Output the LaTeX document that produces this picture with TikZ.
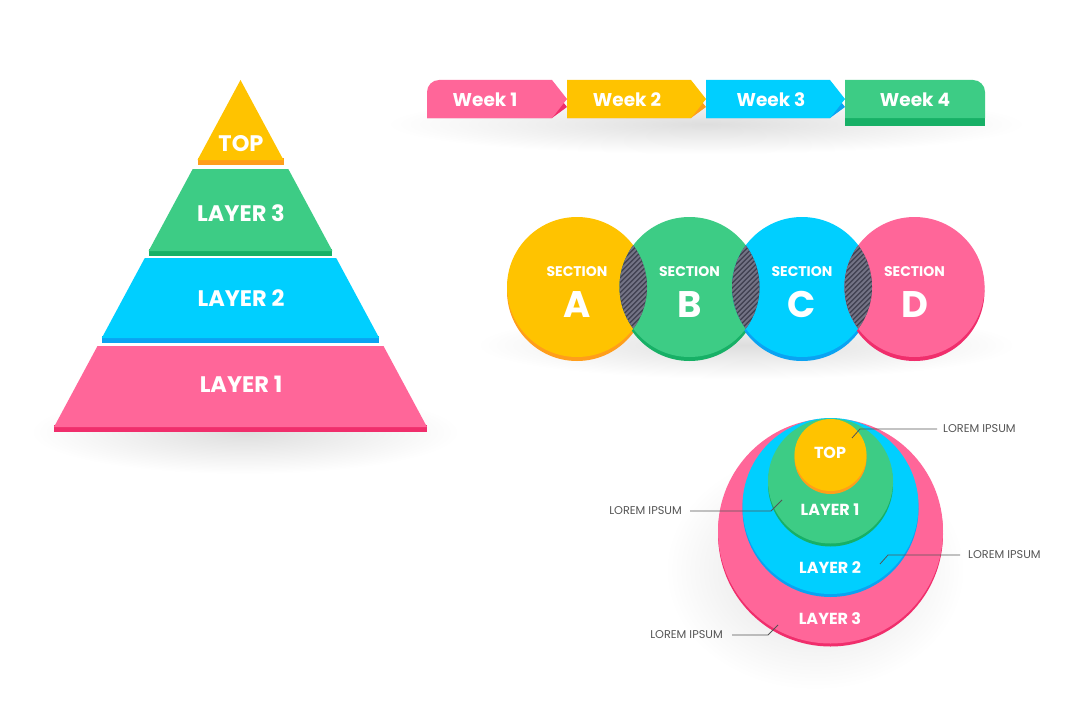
\documentclass[tikz,border=0pt]{standalone}
\usepackage{fontspec}
\newfontfamily\pop{Poppins}
\definecolor{pk}{HTML}{FF6699}
\definecolor{pkd}{HTML}{F02E6C}
\definecolor{yl}{HTML}{FFC300}
\definecolor{yld}{HTML}{FF9E1B}
\definecolor{gn}{HTML}{3DCC85}
\definecolor{gnd}{HTML}{17B066}
\definecolor{cy}{HTML}{00CFFF}
\definecolor{cyd}{HTML}{0AA3F2}
\definecolor{hb}{HTML}{404050}
\definecolor{hl}{HTML}{737385}
\definecolor{lg}{HTML}{555555}
\tikzset{
  pyrtxt/.style={text=white, inner sep=0pt, font=\pop\bfseries\fontsize{22.5}{22.5}\selectfont},
  wktxt/.style={text=white, inner sep=0pt, font=\pop\bfseries\fontsize{18.5}{18.5}\selectfont},
  sectxt/.style={text=white, inner sep=0pt, font=\pop\bfseries\fontsize{14}{14}\selectfont},
  lettxt/.style={text=white, inner sep=0pt, font=\pop\bfseries\fontsize{37}{37}\selectfont},
  nesttxt/.style={text=white, inner sep=0pt, font=\pop\bfseries\fontsize{16}{16}\selectfont},
  lorem/.style={text=lg, inner sep=0pt, font=\pop\fontsize{11.3}{11.3}\selectfont},
  leader/.style={draw=lg, line width=0.8pt},
  hatchline/.style={draw=hl, line width=1.8pt},
  shadowsoft/.style={inner color=black!13, outer color=white},
}
\begin{document}
\begin{tikzpicture}[x=1pt,y=-1pt]
\useasboundingbox (0,0) rectangle (1087,725);
\fill[white] (0,0) rectangle (1087,725);

% ---------- shadows ----------
\shade[shadowsoft] (245,432) ellipse (215 and 42);
\shade[shadowsoft] (706,124) ellipse (320 and 30);
\shade[shadowsoft] (746,345) ellipse (270 and 34);
\shade[shadowsoft] (815,570) ellipse (150 and 120);

% ---------- pyramid ----------
\fill[yld] (197.5,158) rectangle (283.5,165);
\fill[yl] (240.5,80) -- (283.5,160) -- (197.5,160) -- cycle;
\fill[gnd] (148.6,249) rectangle (332.4,256);
\fill[gn] (192.7,169) -- (288.3,169) -- (332.4,251) -- (148.6,251) -- cycle;
\fill[cyd] (101.8,336) rectangle (379.2,343);
\fill[cy] (144.8,258) -- (336.2,258) -- (379.2,338) -- (101.8,338) -- cycle;
\fill[pkd] (54,425) rectangle (427,432);
\fill[pk] (97.5,346) -- (383.5,346) -- (427,427) -- (54,427) -- cycle;
\node[pyrtxt] (ptop) at (241,144) {TOP};
\node[pyrtxt] (pl3) at (241,213) {LAYER 3};
\node[pyrtxt] (pl2) at (241,298) {LAYER 2};
\node[pyrtxt] (pl1) at (241,384) {LAYER 1};

% ---------- weeks ----------
\foreach \dy/\c in {8/pkd,0/pk}{
  \fill[\c, shift={(0,\dy)}] (427,110) -- (427,92) arc[start angle=180,end angle=270,radius=12] -- (552,80) -- (567,99) -- (552,110) -- cycle;
}
\fill[pk] (427,92) -- (427,118) -- (552,118) -- (567,99) -- cycle;
\foreach \dy/\c in {8/yld,0/yl}{
  \fill[\c, shift={(0,\dy)}] (567,110) -- (567,80) -- (691,80) -- (706,99) -- (691,110) -- cycle;
}
\fill[yl] (567,90) -- (567,118) -- (691,118) -- (706,99) -- cycle;
\foreach \dy/\c in {8/cyd,0/cy}{
  \fill[\c, shift={(0,\dy)}] (706,110) -- (706,80) -- (830,80) -- (845,99) -- (830,110) -- cycle;
}
\fill[cy] (706,90) -- (706,118) -- (830,118) -- (845,99) -- cycle;
\fill[gnd] (845,110) rectangle (985,126);
\fill[gn] (845,118) -- (845,80) -- (973,80) arc[start angle=270,end angle=360,radius=12] -- (985,118) -- cycle;
\node[wktxt] (w1) at (485,100) {Week 1};
\node[wktxt] (w2) at (627,100) {Week 2};
\node[wktxt] (w3) at (771,100) {Week 3};
\node[wktxt] (w4) at (915,100) {Week 4};

% ---------- sections ----------
\fill[yld] (577,291) circle (70);
\fill[gnd] (689.5,291) circle (70);
\fill[cyd] (802,291) circle (70);
\fill[pkd] (914.5,291) circle (70);
\fill[yl] (577,287) circle (70);
\fill[gn] (689.5,287) circle (70);
\fill[cy] (802,287) circle (70);
\fill[pk] (914.5,287) circle (70);
\foreach \xa/\xb in {577/689.5, 689.5/802, 802/914.5}{
  \begin{scope}
    \clip (\xa,287) circle (70);
    \clip (\xb,287) circle (70);
    \pgfmathsetmacro{\xm}{(\xa+\xb)/2}
    \fill[hb] (\xm-40,230) rectangle (\xm+40,345);
    \foreach \i in {-120,-115,...,120}{
      \draw[hatchline] (\xm+\i-60,347) -- (\xm+\i+60,227);
    }
  \end{scope}
}
\node[sectxt] (sa) at (577,272) {SECTION};
\node[sectxt] (sb) at (689.5,272) {SECTION};
\node[sectxt] (sc) at (802,272) {SECTION};
\node[sectxt] (sd) at (914.5,272) {SECTION};
\node[lettxt] (la) at (577,304.5) {A};
\node[lettxt] (lb) at (689.5,304.5) {B};
\node[lettxt] (lc) at (802,304.5) {C};
\node[lettxt] (ld) at (914.5,304.5) {D};

% ---------- nested circles ----------
\fill[pkd] (830.5,534) circle (112.5);
\fill[pk] (830.5,531) circle (112.5);
\fill[cyd] (830.5,509) circle (88);
\fill[cy] (830.5,506) circle (88);
\fill[gnd] (830.5,484) circle (62.5);
\fill[gn] (830.5,481) circle (62.5);
\fill[yld] (830.5,458) circle (36);
\fill[yl] (830.5,455) circle (36);
\node[nesttxt] (ntop) at (830,453) {TOP};
\node[nesttxt] (nl1) at (830,510) {LAYER 1};
\node[nesttxt] (nl2) at (830,568) {LAYER 2};
\node[nesttxt] (nl3) at (830,619) {LAYER 3};

% ---------- labels ----------
\node[lorem, anchor=west] (loa) at (943,429) {LOREM IPSUM};
\coordinate (loa0) at (937,429);
\coordinate (loa1) at (860,429);
\coordinate (loa2) at (852,438);
\draw[leader] (loa0) -- (loa1) -- (loa2);

\node[lorem, anchor=west] (lob) at (968,555) {LOREM IPSUM};
\coordinate (lob0) at (960,555);
\coordinate (lob1) at (888,555);
\coordinate (lob2) at (880,564);
\draw[leader] (lob0) -- (lob1) -- (lob2);

\node[lorem, anchor=east] (loc) at (682,511) {LOREM IPSUM};
\coordinate (loc0) at (690,511);
\coordinate (loc1) at (771,511);
\coordinate (loc2) at (782,500);
\draw[leader] (loc0) -- (loc1) -- (loc2);

\node[lorem, anchor=east] (lod) at (723,635) {LOREM IPSUM};
\coordinate (lod0) at (732,635);
\coordinate (lod1) at (768,635);
\coordinate (lod2) at (778,625);
\draw[leader] (lod0) -- (lod1) -- (lod2);
\end{tikzpicture}
\end{document}
